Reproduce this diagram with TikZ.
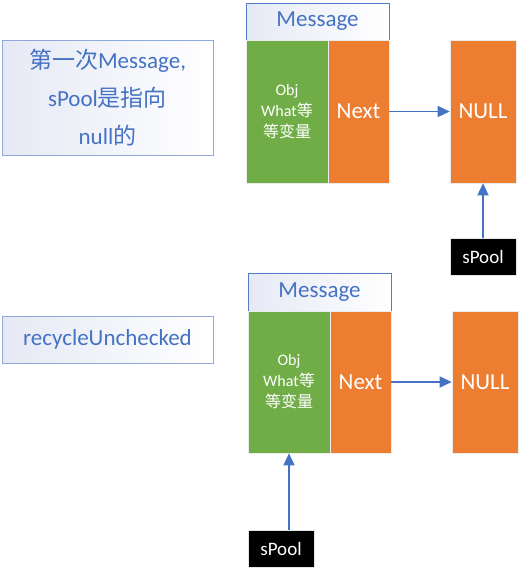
\documentclass[tikz,border=0pt]{standalone}
\usepackage{fontspec}
\setmainfont{Carlito}
\newfontfamily\cjk{Noto Sans CJK SC}
\usepackage{xcolor}
\usepackage{tikz}
\usetikzlibrary{arrows.meta}

\definecolor{msgblue}{HTML}{4472C4}
\definecolor{edgeblue}{HTML}{8EA9DB}
\definecolor{lavender}{HTML}{E6E9F5}
\definecolor{objgreen}{HTML}{70AD47}
\definecolor{nextorange}{HTML}{ED7D31}

\newcommand{\zh}[1]{{\cjk #1}}

\tikzset{
    notebox/.style={draw=edgeblue, line width=0.8pt, left color=lavender, right color=white, text=msgblue, inner sep=0pt, align=center, font=\fontsize{23}{38}\selectfont},
    headbox/.style={notebox, draw=msgblue!80!edgeblue},
    objbox/.style={draw=white!85!gray, line width=0.6pt, fill=objgreen, text=white, inner sep=0pt, align=center, font=\fontsize{16}{21}\selectfont},
    nextbox/.style={objbox, fill=nextorange, font=\fontsize{23}{28}\selectfont},
    poolbox/.style={draw=white!80!gray, line width=0.8pt, fill=black, text=white, inner sep=0pt, font=\fontsize{19}{23}\selectfont},
    ptr/.style={color=msgblue, line width=1.5pt, -{Triangle[length=12pt,width=11pt]}}
}

\begin{document}
\begin{tikzpicture}[x=1pt, y=-1pt]
            \useasboundingbox (0, 0) rectangle (523, 571);

            % first message, sPool points to null
            \node[notebox, minimum width=211pt, minimum height=115pt] (noteA) at (107.5, 97.5) {\zh{第一次}Message,\\sPool\zh{是指向}\\null\zh{的}};
            \node[headbox, minimum width=143pt, minimum height=37pt] (msgA) at (317.5, 21.5) {Message};
            \node[objbox, minimum width=82pt, minimum height=143pt] (objA) at (287, 111.5) {Obj\\What\zh{等}\\\zh{等变量}};
            \node[nextbox, minimum width=61pt, minimum height=143pt] (nextA) at (358.5, 111.5) {Next};
            \node[nextbox, minimum width=66pt, minimum height=143pt] (nullA) at (483, 111.5) {NULL};
            \node[poolbox, minimum width=66pt, minimum height=37pt] (poolA) at (483, 256.5) {sPool};

            \draw[ptr] (nextA) -- (nullA);
            \draw[ptr] (poolA) -- (nullA);

            % after recycleUnchecked
            \node[notebox, minimum width=211pt, minimum height=47pt] (noteB) at (107.5, 339.5) {recycleUnchecked};
            \node[headbox, minimum width=143pt, minimum height=38pt] (msgB) at (319.5, 292) {Message};
            \node[objbox, minimum width=82pt, minimum height=142pt] (objB) at (289, 382) {Obj\\What\zh{等}\\\zh{等变量}};
            \node[nextbox, minimum width=61pt, minimum height=142pt] (nextB) at (360.5, 382) {Next};
            \node[nextbox, minimum width=66pt, minimum height=142pt] (nullB) at (485, 382) {NULL};
            \node[poolbox, minimum width=66pt, minimum height=37pt] (poolB) at (281, 548.5) {sPool};

            \draw[ptr] (nextB) -- (nullB);
            \draw[ptr] (poolB.north -| objB.south) -- (objB.south);

        \end{tikzpicture}
\end{document}
